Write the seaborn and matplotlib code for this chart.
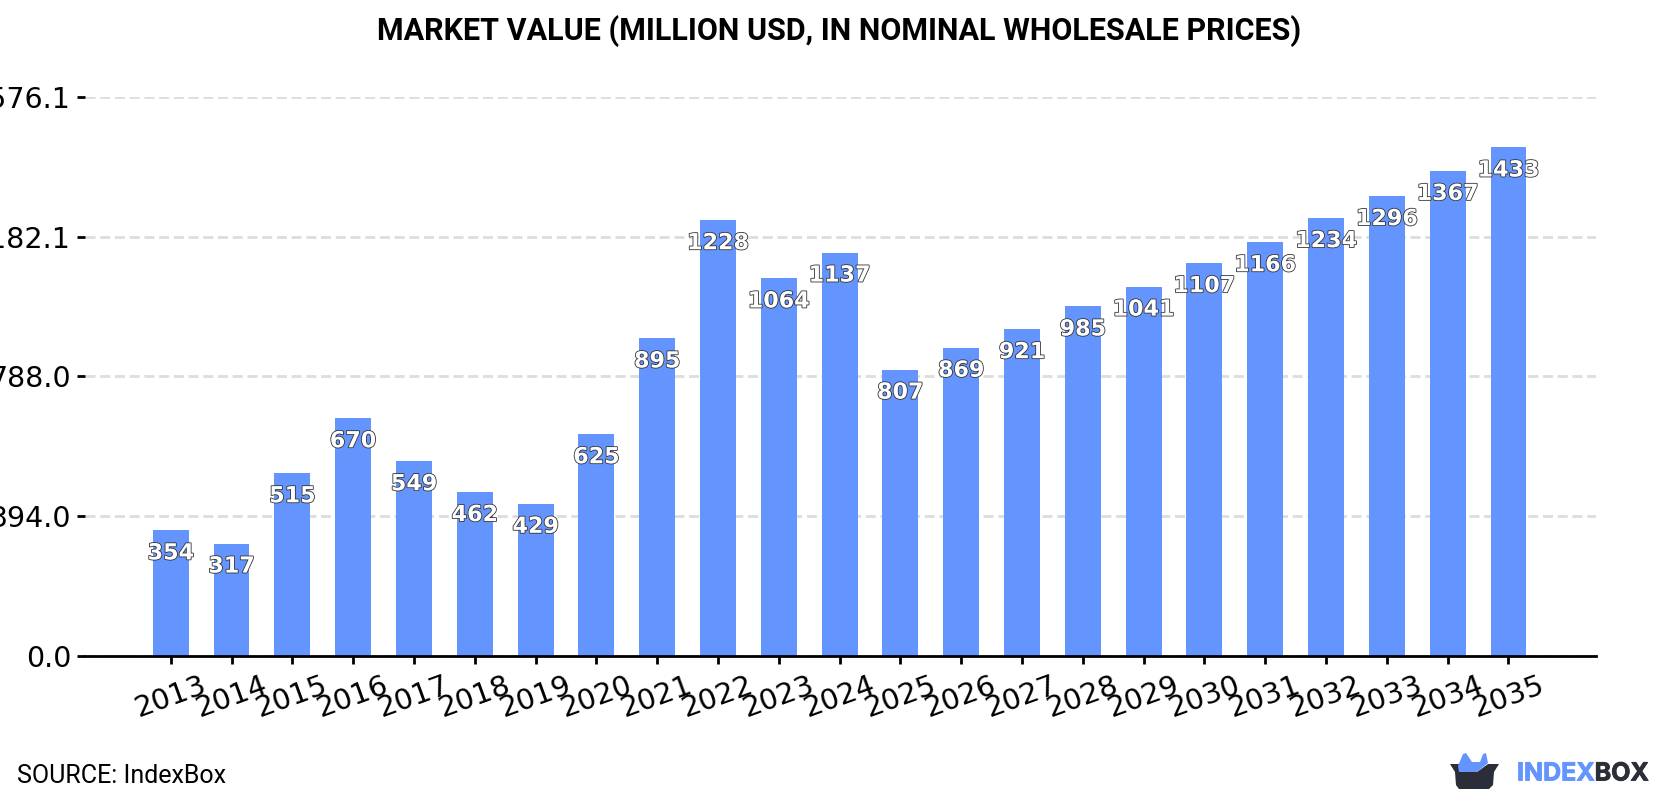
import matplotlib
matplotlib.use("Agg")
import matplotlib.pyplot as plt
import matplotlib.patheffects as pe
from matplotlib.patches import Polygon
import pandas as pd
import seaborn as sns

years = list(range(2013, 2036))
values = [354, 317, 515, 670, 549, 462, 429, 625, 895, 1228, 1064, 1137,
          807, 869, 921, 985, 1041, 1107, 1166, 1234, 1296, 1367, 1433]
y_ticks = [0.0, 394.0, 788.0, 1182.1, 1576.1]
BAR_COLOR = "#6495ff"
DARK = "#2b2d38"

sns.set_theme(style="white")
plt.rcParams["font.family"] = ["DejaVu Sans"]

W, H = 1680, 800
fig = plt.figure(figsize=(W / 100, H / 100), dpi=100, facecolor="white")
ax = fig.add_axes([85 / W, 1 - 656 / H, (1596 - 85) / W, (656 - 96.7) / H])

df = pd.DataFrame({"year": [str(y) for y in years], "value": values})
sns.barplot(data=df, x="year", y="value", color=BAR_COLOR, saturation=1,
            width=0.59, ax=ax, zorder=3, linewidth=0, edgecolor="none")

ax.set_xlim(-1.41, 23.44)
ax.set_ylim(0, 1576.1)
ax.set_xlabel("")
ax.set_ylabel("")
ax.set_yticks(y_ticks)
ax.set_yticklabels([f"{t:.1f}" for t in y_ticks])
ax.yaxis.grid(True, color="#dddddd", linewidth=2, linestyle=(0, (3.6, 1.7)), zorder=0)
ax.xaxis.grid(False)
for side in ("top", "right", "left"):
    ax.spines[side].set_visible(False)
ax.spines["bottom"].set_color("black")
ax.spines["bottom"].set_linewidth(2)
ax.spines["bottom"].set_zorder(6)
ax.tick_params(axis="y", length=6, width=2, color="black", labelsize=20.5,
               labelcolor="black", left=True, pad=4)
ax.tick_params(axis="x", length=6, width=2, color="black", labelsize=21,
               labelcolor="black", bottom=True, pad=5, labelrotation=20)

# Value labels sit inside each bar, just under its top
for i, v in enumerate(values):
    ax.annotate(str(v), (i, v), xytext=(0, -16.6), textcoords="offset points",
                ha="center", va="center", fontsize=16, fontweight="bold",
                color="white", zorder=5,
                path_effects=[pe.withStroke(linewidth=1.2, foreground="#333333")])

# Page-level overlay in pixel units for the title, source line and logo
page = fig.add_axes([0, 0, 1, 1], facecolor="none")
page.set_xlim(0, W)
page.set_ylim(H, 0)
page.axis("off")

page.text(839.5, 31.5, "MARKET VALUE (MILLION USD, IN NOMINAL WHOLESALE PRICES)",
          ha="center", va="center", family="Roboto", fontweight="bold",
          fontsize=22, color="black")
page.text(17, 776, "SOURCE: IndexBox", ha="left", va="center", family="Roboto",
          fontsize=18, color="black")

blue_part = [(1458, 766), (1463, 754), (1466, 753), (1472, 762), (1480, 762),
             (1483, 754), (1486, 753), (1488, 763), (1477, 772), (1459, 772)]
tray = [(1450, 764), (1477, 764), (1477, 772), (1488, 764), (1499, 764),
        (1494, 772), (1493, 785), (1489, 789), (1459, 789), (1456, 785),
        (1455, 772)]
page.add_patch(Polygon(tray, closed=True, facecolor=DARK, edgecolor="none"))
page.add_patch(Polygon(blue_part, closed=True, facecolor=BAR_COLOR, edgecolor="none", zorder=3))

stroke = [pe.withStroke(linewidth=0.6, foreground=BAR_COLOR)]
first = page.text(1517, 774, "INDEX", ha="left", va="center", family="Inter",
                  fontweight="bold", fontsize=18, color=BAR_COLOR, path_effects=stroke)
fig.canvas.draw()
box = first.get_window_extent()
page.text(box.x1, 774, "BOX", ha="left", va="center", family="Inter",
          fontweight="bold", fontsize=18, color=DARK,
          path_effects=[pe.withStroke(linewidth=0.6, foreground=DARK)])

fig.savefig("out.png", dpi=100, facecolor="white")
